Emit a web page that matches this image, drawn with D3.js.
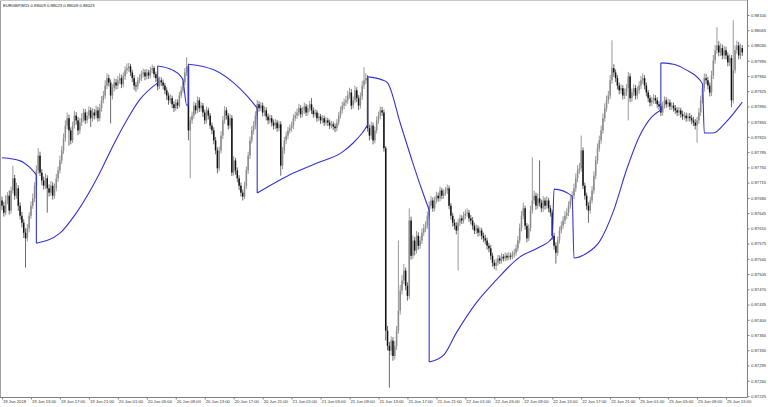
<!DOCTYPE html>
<html><head><meta charset="utf-8">
<script src="https://cdn.jsdelivr.net/npm/d3@7"></script>
<style>html,body{margin:0;padding:0;background:#fff;overflow:hidden}svg{display:block}</style>
</head><body><svg id="c" width="768" height="407"></svg>
<script>
// EURGBP M15 — prices in points (1 point = 0.00001)
const title = "EURGBP,M15  0.88009 0.88023 0.88009 0.88023";

const opens = [
87674,87662,87646,87674,87685,87651,87697,87725,87685,87702,
87662,87639,87623,87600,87587,87610,87639,87662,87679,87708,
87743,87777,87738,87720,87708,87725,87702,87692,87708,87685,
87702,87725,87743,87766,87789,87817,87846,87863,87835,87812,
87846,87869,87858,87835,87853,87863,87876,87858,87869,87881,
87863,87876,87869,87881,87863,87886,87904,87915,87938,87955,
87945,87915,87932,87945,87938,87950,87955,87941,87959,87973,
87978,87982,87968,87955,87938,87936,87950,87955,87964,87968,
87959,87968,87961,87973,87978,87964,87955,87936,87950,87945,
87938,87927,87915,87904,87909,87895,87886,87899,87892,87915,
87927,87945,87968,87982,87835,87858,87869,87892,87881,87904,
87886,87892,87876,87858,87881,87869,87846,87835,87812,87789,
87748,87789,87823,87858,87881,87869,87846,87863,87738,87766,
87743,87725,87708,87692,87683,87708,87743,87777,87812,87835,
87846,87869,87895,87886,87892,87876,87881,87867,87858,87863,
87853,87846,87853,87840,87849,87754,87789,87812,87823,87835,
87840,87846,87863,87869,87876,87886,87872,87881,87890,87876,
87886,87895,87881,87872,87876,87863,87867,87858,87863,87853,
87858,87853,87846,87849,87844,87840,87853,87869,87881,87892,
87899,87904,87915,87922,87892,87904,87927,87909,87892,87913,
87938,87950,87955,87840,87823,87846,87812,87835,87858,87869,
87881,87876,87794,87375,87340,87329,87352,87317,87340,87375,
87421,87467,87490,87513,87478,87455,87628,87547,87582,87559,
87593,87570,87582,87600,87610,87616,87639,87662,87674,87656,
87674,87685,87679,87697,87685,87692,87697,87702,87662,87639,
87623,87616,87605,87623,87633,87628,87639,87644,87646,87633,
87628,87616,87605,87610,87600,87605,87593,87587,87582,87570,
87564,87547,87531,87524,87531,87541,87536,87545,87541,87547,
87543,87547,87545,87550,87554,87564,87582,87610,87639,87656,
87616,87587,87610,87651,87674,87685,87662,87679,87669,87656,
87674,87662,87674,87656,87646,87593,87570,87554,87582,87605,
87616,87628,87639,87646,87662,87674,87685,87702,87725,87743,
87748,87789,87708,87685,87662,87651,87674,87697,87731,87766,
87794,87812,87835,87863,87886,87904,87915,87950,87978,87968,
87955,87938,87927,87932,87915,87922,87932,87959,87909,87922,
87932,87915,87927,87938,87950,87955,87938,87922,87909,87899,
87904,87909,87904,87895,87890,87876,87892,87904,87895,87899,
87890,87892,87886,87881,87876,87881,87872,87867,87869,87863,
87867,87863,87858,87853,87846,87858,87876,87904,87932,87955,
87950,87938,87922,87961,87996,88019,88030,88014,88024,88007,
88019,88007,87991,88001,87904,87973,88019,88030,88007,88024];

const highs = [
87683,87671,87686,87693,87697,87706,87754,87733,87715,87709,
87670,87648,87631,87610,87620,87647,87672,87690,87716,87755,
87794,87786,87746,87729,87736,87732,87711,87719,87716,87713,
87735,87752,87777,87799,87828,87858,87876,87871,87842,87855,
87880,87877,87866,87863,87874,87885,87884,87878,87890,87888,
87886,87884,87892,87889,87896,87914,87926,87950,87966,87963,
87952,87941,87955,87953,87960,87966,87963,87968,87982,87989,
87990,87988,87974,87962,87946,87958,87964,87972,87977,87975,
87976,87974,87981,87986,87983,87970,87960,87958,87957,87952,
87944,87934,87922,87918,87915,87902,87907,87906,87923,87936,
87955,87978,88003,87988,87866,87878,87901,87898,87913,87911,
87900,87898,87883,87890,87887,87875,87853,87842,87820,87796,
87798,87833,87868,87891,87888,87875,87873,87870,87776,87772,
87750,87732,87715,87699,87717,87752,87786,87821,87845,87856,
87879,87905,87902,87900,87899,87890,87888,87874,87871,87870,
87860,87861,87859,87857,87856,87797,87820,87832,87843,87849,
87855,87872,87878,87885,87896,87893,87889,87899,87896,87894,
87903,87909,87888,87884,87882,87875,87873,87870,87869,87866,
87864,87860,87857,87855,87851,87861,87877,87890,87901,87908,
87914,87926,87933,87930,87913,87938,87934,87916,87922,87949,
87980,87966,87962,87848,87855,87853,87844,87867,87878,87890,
87889,87883,87799,87386,87349,87362,87360,87351,87386,87582,
87480,87503,87528,87520,87486,87656,87637,87594,87590,87604,
87601,87592,87610,87620,87626,87649,87672,87684,87681,87683,
87694,87692,87706,87703,87700,87705,87711,87708,87668,87646,
87631,87624,87632,87642,87640,87648,87653,87656,87652,87641,
87636,87623,87619,87617,87613,87611,87600,87595,87589,87577,
87572,87554,87538,87540,87549,87548,87553,87551,87555,87553,
87556,87554,87558,87563,87573,87592,87621,87650,87669,87662,
87622,87619,87662,87773,87697,87692,87690,87766,87676,87684,
87681,87684,87680,87663,87652,87600,87578,87591,87614,87626,
87638,87649,87656,87672,87685,87695,87713,87736,87755,87760,
87823,87796,87715,87692,87670,87683,87707,87741,87776,87805,
87823,87846,87874,87897,87915,87926,87962,88042,87987,87975,
87962,87945,87941,87939,87931,87941,87969,87966,87931,87941,
87939,87936,87948,87960,87966,87962,87945,87928,87916,87912,
87918,87916,87911,87902,87897,87901,87913,87911,87908,87906,
87900,87899,87893,87888,87889,87887,87880,87877,87876,87874,
87875,87870,87866,87861,87866,87886,87915,87943,87966,87965,
87958,87945,87972,88008,88031,88072,88040,88035,88032,88029,
88027,88014,88010,88008,88088,88030,88041,88038,88034,88031];

const lows = [
87652,87637,87640,87665,87642,87644,87690,87676,87678,87650,
87630,87612,87588,87520,87580,87601,87632,87655,87670,87700,
87735,87730,87709,87699,87700,87646,87683,87685,87676,87678,
87695,87717,87736,87758,87781,87809,87838,87800,87803,87806,
87839,87848,87824,87827,87845,87855,87850,87851,87861,87843,
87855,87860,87862,87855,87856,87878,87897,87908,87930,87936,
87851,87906,87924,87929,87930,87942,87932,87934,87951,87965,
87970,87960,87946,87928,87924,87929,87943,87948,87957,87950,
87952,87953,87955,87966,87956,87946,87927,87930,87937,87929,
87918,87905,87894,87897,87886,87877,87880,87884,87887,87909,
87921,87939,87960,87812,87725,87850,87862,87872,87875,87877,
87878,87866,87849,87851,87860,87838,87826,87803,87780,87736,
87741,87782,87815,87850,87860,87837,87839,87730,87731,87733,
87716,87698,87683,87674,87677,87701,87735,87769,87805,87826,
87838,87861,87878,87879,87867,87868,87858,87849,87850,87844,
87837,87838,87832,87833,87731,87746,87781,87804,87815,87828,
87832,87838,87856,87861,87868,87864,87865,87873,87868,87869,
87878,87873,87864,87866,87855,87856,87850,87851,87845,87847,
87845,87838,87840,87836,87831,87833,87846,87862,87874,87884,
87891,87896,87908,87883,87885,87897,87900,87882,87885,87905,
87930,87942,87832,87812,87815,87803,87805,87828,87850,87861,
87868,87786,87352,87330,87244,87318,87306,87309,87331,87368,
87412,87458,87482,87468,87444,87448,87538,87540,87548,87552,
87561,87563,87574,87592,87602,87609,87631,87655,87648,87649,
87667,87671,87672,87677,87678,87685,87689,87654,87630,87614,
87607,87596,87513,87615,87620,87621,87631,87637,87625,87619,
87607,87597,87597,87591,87592,87584,87578,87573,87561,87555,
87538,87522,87516,87513,87524,87528,87529,87534,87535,87536,
87537,87538,87539,87543,87547,87557,87575,87603,87631,87607,
87578,87581,87603,87644,87666,87653,87655,87660,87647,87648,
87653,87655,87647,87637,87584,87561,87529,87547,87575,87598,
87609,87620,87631,87638,87655,87666,87677,87694,87716,87735,
87740,87700,87676,87653,87623,87644,87667,87689,87723,87758,
87786,87804,87827,87855,87878,87896,87907,87942,87958,87946,
87929,87918,87919,87906,87907,87914,87858,87900,87901,87914,
87906,87907,87919,87930,87942,87929,87913,87900,87890,87891,
87896,87896,87887,87882,87868,87869,87885,87887,87888,87882,
87882,87878,87873,87868,87869,87864,87859,87860,87855,87856,
87855,87849,87845,87837,87807,87850,87868,87897,87924,87941,
87929,87913,87914,87953,87988,88011,88005,88006,87998,87999,
87998,87982,87983,87888,87897,87966,88011,87998,87999,88006];

const closes = [
87662,87646,87674,87685,87651,87697,87725,87685,87702,87662,
87639,87623,87600,87587,87610,87639,87662,87679,87708,87743,
87777,87738,87720,87708,87725,87702,87692,87708,87685,87702,
87725,87743,87766,87789,87817,87846,87863,87835,87812,87846,
87869,87858,87835,87853,87863,87876,87858,87869,87881,87863,
87876,87869,87881,87863,87886,87904,87915,87938,87955,87945,
87915,87932,87945,87938,87950,87955,87941,87959,87973,87978,
87982,87968,87955,87938,87936,87950,87955,87964,87968,87959,
87968,87961,87973,87978,87964,87955,87936,87950,87945,87938,
87927,87915,87904,87909,87895,87886,87899,87892,87915,87927,
87945,87968,87982,87835,87858,87869,87892,87881,87904,87886,
87892,87876,87858,87881,87869,87846,87835,87812,87789,87748,
87789,87823,87858,87881,87869,87846,87863,87738,87766,87743,
87725,87708,87692,87683,87708,87743,87777,87812,87835,87846,
87869,87895,87886,87892,87876,87881,87867,87858,87863,87853,
87846,87853,87840,87849,87754,87789,87812,87823,87835,87840,
87846,87863,87869,87876,87886,87872,87881,87890,87876,87886,
87895,87881,87872,87876,87863,87867,87858,87863,87853,87858,
87853,87846,87849,87844,87840,87853,87869,87881,87892,87899,
87904,87915,87922,87892,87904,87927,87909,87892,87913,87938,
87950,87955,87840,87823,87846,87812,87835,87858,87869,87881,
87876,87794,87375,87340,87329,87352,87317,87340,87375,87421,
87467,87490,87513,87478,87455,87628,87547,87582,87559,87593,
87570,87582,87600,87610,87616,87639,87662,87674,87656,87674,
87685,87679,87697,87685,87692,87697,87702,87662,87639,87623,
87616,87605,87623,87633,87628,87639,87644,87646,87633,87628,
87616,87605,87610,87600,87605,87593,87587,87582,87570,87564,
87547,87531,87524,87531,87541,87536,87545,87541,87547,87543,
87547,87545,87550,87554,87564,87582,87610,87639,87656,87616,
87587,87610,87651,87674,87685,87662,87679,87669,87656,87674,
87662,87674,87656,87646,87593,87570,87554,87582,87605,87616,
87628,87639,87646,87662,87674,87685,87702,87725,87743,87748,
87789,87708,87685,87662,87651,87674,87697,87731,87766,87794,
87812,87835,87863,87886,87904,87915,87950,87978,87968,87955,
87938,87927,87932,87915,87922,87932,87959,87909,87922,87932,
87915,87927,87938,87950,87955,87938,87922,87909,87899,87904,
87909,87904,87895,87890,87876,87892,87904,87895,87899,87890,
87892,87886,87881,87876,87881,87872,87867,87869,87863,87867,
87863,87858,87853,87846,87858,87876,87904,87932,87955,87950,
87938,87922,87961,87996,88019,88030,88014,88024,88007,88019,
88007,87991,88001,87904,87973,88019,88030,88007,88024,88014];

// indicator (trailing line) vertices: bar index + price; repeated index = jump
const lineBar = [0,10,15,19,19,32,41,54,61,69,76,86,86,94,99,100,102,103,103,117,128,135,141,141,161,174,188,194,199,202,202,210,213,220,227,232,236,236,244,251,262,273,286,297,304,305,315,316,323,330,338,345,352,359,364,364,371,378,387,388,393,400,409];
const lineValue = [87772,87765,87751,87733,87576,87599,87645,87737,87797,87859,87905,87944,87983,87974,87958,87950,87893,87893,87987,87974,87944,87916,87886,87691,87737,87760,87785,87806,87829,87847,87958,87951,87944,87852,87760,87698,87652,87303,87319,87370,87439,87491,87544,87567,87588,87700,87684,87542,87553,87579,87652,87744,87820,87866,87882,87990,87987,87974,87942,87829,87829,87854,87900];

const priceTicks = ["0.88100","0.88065","0.88030","0.87995","0.87960","0.87925","0.87890","0.87855","0.87820","0.87785","0.87750","0.87715","0.87680","0.87645","0.87610","0.87575","0.87540","0.87505","0.87470","0.87435","0.87400","0.87365","0.87330","0.87295","0.87260","0.87225"];
const timeLabels = ["19 Jun 2018","19 Jun 13:00","19 Jun 17:00","19 Jun 21:00","20 Jun 01:00","20 Jun 05:00","20 Jun 09:00","20 Jun 13:00","20 Jun 17:00","20 Jun 21:00","21 Jun 01:00","21 Jun 05:00","21 Jun 09:00","21 Jun 13:00","21 Jun 17:00","21 Jun 21:00","22 Jun 01:00","22 Jun 05:00","22 Jun 09:00","22 Jun 13:00","22 Jun 17:00","22 Jun 21:00","25 Jun 01:00","25 Jun 05:00","25 Jun 09:00","25 Jun 13:00"];
const timeLabelBars = [0,16,32,48,64,80,96,112,128,144,160,176,192,208,224,240,256,272,288,304,320,336,352,368,384,400];

const FONT = "'Liberation Sans', Arial, sans-serif";
const svg = d3.select("#c");
const plotRight = 747.5, plotBottom = 397.5;
const n = closes.length;
const x = d3.scaleLinear().domain([0, n - 1]).range([2, 742.3]);
const y = d3.scaleLinear().domain([87225, 88100]).range([396, 15]);

// frame
svg.append("line").attr("x1",0.5).attr("x2",0.5).attr("y1",0).attr("y2",plotBottom).attr("stroke","#a0a0a0");
svg.append("line").attr("x1",0).attr("x2",plotRight).attr("y1",0.5).attr("y2",0.5).attr("stroke","#c8c8c8");
svg.append("line").attr("x1",plotRight).attr("x2",plotRight).attr("y1",0).attr("y2",plotBottom).attr("stroke","#808080");
svg.append("line").attr("x1",0).attr("x2",plotRight).attr("y1",plotBottom).attr("y2",plotBottom).attr("stroke","#808080");

// candles
const idx = d3.range(n);
const cg = svg.append("g");
cg.selectAll("line.w").data(idx).join("line").attr("class","w")
  .attr("x1", i => x(i)).attr("x2", i => x(i))
  .attr("y1", i => y(highs[i])).attr("y2", i => y(lows[i]))
  .attr("stroke", i => closes[i] < opens[i] ? "#6a6a6a" : "#9a9a9a").attr("stroke-width", 1);
cg.selectAll("rect.b").data(idx).join("rect").attr("class","b")
  .attr("x", i => x(i) - 0.75).attr("width", 1.5)
  .attr("y", i => y(Math.max(opens[i], closes[i])))
  .attr("height", i => Math.max(0.8, Math.abs(y(opens[i]) - y(closes[i]))))
  .attr("fill", i => closes[i] < opens[i] ? "#111" : "#8a8a8a");

// indicator line, split at jumps
const pts = lineBar.map((b, k) => [b, lineValue[k]]);
const segs = [[pts[0]]];
for (let k = 1; k < pts.length; k++) {
  if (pts[k][0] === pts[k-1][0]) segs.push([pts[k]]);
  else segs[segs.length-1].push(pts[k]);
}
const lineGen = d3.line().x(d => x(d[0])).y(d => y(d[1])).curve(d3.curveMonotoneX);
const lg = svg.append("g").attr("fill","none").attr("stroke","#3434d2").attr("stroke-width",1.1);
segs.forEach(s => lg.append("path").attr("d", lineGen(s)));
for (let k = 1; k < pts.length; k++) {
  if (pts[k][0] === pts[k-1][0]) {
    lg.append("line").attr("x1", x(pts[k][0])).attr("x2", x(pts[k][0]))
      .attr("y1", y(pts[k-1][1])).attr("y2", y(pts[k][1]));
  }
}

// price axis
const tickVals = priceTicks.map(s => Math.round(parseFloat(s) * 1e5));
const ay = svg.append("g").attr("transform", `translate(${plotRight},0)`)
  .call(d3.axisRight(y).tickValues(tickVals).tickFormat((d, i) => priceTicks[i]).tickSize(2).tickPadding(1.5));
ay.select(".domain").remove();
ay.attr("font-size", 4.2).attr("font-family", FONT);
ay.selectAll("line").attr("stroke", "#808080");
ay.selectAll("text").attr("fill", "#333");

// time axis
const ax = svg.append("g").attr("transform", `translate(0,${plotBottom})`)
  .call(d3.axisBottom(x).tickValues(timeLabelBars).tickFormat((d, i) => timeLabels[i]).tickSize(2).tickPadding(0.8));
ax.select(".domain").remove();
ax.attr("font-size", 4.2).attr("font-family", FONT);
ax.selectAll("line").attr("stroke", "#808080");
ax.selectAll("text").attr("text-anchor", "start").attr("dx", 0.5).attr("fill", "#333");

// title
svg.append("text").attr("x", 3).attr("y", 6.5).attr("font-size", 4.2).attr("font-family", FONT)
  .attr("fill", "#222").text(title);
</script>
</body></html>
